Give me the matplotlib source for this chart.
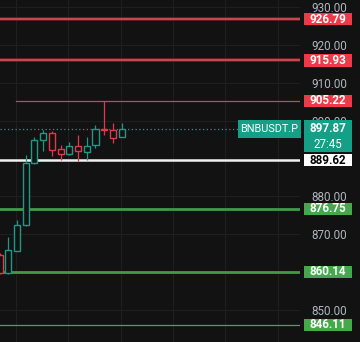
import matplotlib
matplotlib.use("Agg")
import matplotlib.pyplot as plt
from matplotlib.patches import Rectangle
from matplotlib.transforms import blended_transform_factory

plt.rcParams['font.family'] = ['Roboto', 'DejaVu Sans']

# candle data (5m BNBUSDT.P)
opens = [864.5, 859.8, 865.6, 872.4, 888.8, 894.9, 896.8, 892.4, 891.2, 893.2, 891.7, 893.6, 897.8, 897.55, 895.6]
closes = [859.8, 865.8, 872.6, 888.9, 895.0, 896.8, 892.3, 891.3, 893.2, 891.9, 893.4, 897.7, 897.6, 895.5, 897.87]
highs = [865.0, 869.3, 873.7, 891.0, 895.8, 897.6, 897.4, 893.7, 894.3, 896.1, 895.6, 898.9, 905.22, 899.3, 899.5]
lows = [859.5, 859.5, 865.5, 872.3, 888.5, 892.1, 890.8, 889.7, 891.0, 889.3, 889.5, 892.7, 896.2, 894.0, 895.6]

# drawn levels
red_levels = [926.79, 915.93, 905.22]
white_level = 889.62
green_levels = [876.75, 860.14, 846.11]
last_price = 897.87
countdown = "27:45"
symbol = "BNBUSDT.P"
tick_values = [850, 860, 870, 880, 890, 900, 910, 920, 930]
hidden_ticks = [860, 890]  # covered by the level boxes

bg = "#121212"
up = "#1f9985"
down = "#e0394a"
red_box = "#ee3a48"
green_box = "#45a84b"
teal_box = "#14a086"

fig = plt.figure(figsize=(3.6, 3.42), dpi=100)
fig.patch.set_facecolor(bg)
ax = fig.add_axes([0, 0, 300 / 360, 1])
ax.set_facecolor(bg)

ax.set_xlim(0.05, 34.45)
ax.set_ylim(841.6, 931.85)

# grid
ax.set_xticks([1.9 + 6 * k for k in range(6)])
ax.set_yticks(tick_values)
ax.grid(True, color="#1f1f1f", lw=0.8, zorder=0)
for s in ax.spines.values():
    s.set_visible(False)
ax.yaxis.tick_right()
ax.set_yticklabels(["" if v in hidden_ticks else f"{v:.2f}" for v in tick_values])
ax.tick_params(axis="y", length=0, pad=8, labelsize=8.4, labelcolor="#b2b5be")
ax.tick_params(axis="x", length=0, labelbottom=False)

# candles
idx = list(range(len(opens)))
colors = [up if c >= o else down for o, c in zip(opens, closes)]
ax.vlines(idx, lows, highs, colors=colors, lw=0.9, zorder=3)
bottoms = [min(o, c) for o, c in zip(opens, closes)]
heights = [max(abs(c - o), 0.15) for o, c in zip(opens, closes)]
ax.bar(idx, heights, bottom=bottoms, width=0.7, facecolor=bg,
       edgecolor=colors, lw=1.0, zorder=4)

# horizontal levels
ax.axhline(red_levels[0], color="#7a1c24", lw=2.6, zorder=2)
ax.axhline(red_levels[0], color="#c64a55", lw=1.4, zorder=2)
ax.axhline(red_levels[1], color="#7a1c24", lw=2.6, zorder=2)
ax.axhline(red_levels[1], color="#c64a55", lw=1.4, zorder=2)
ax.axhline(red_levels[2], xmin=16 / 300, color="#d8404c", lw=0.9, zorder=2)
ax.axhline(white_level, color="#f0f0f0", lw=1.8, zorder=2)
ax.axhline(green_levels[0], color="#3f9c46", lw=2.0, zorder=2)
ax.axhline(green_levels[1], color="#3f9c46", lw=2.0, zorder=2)
ax.axhline(green_levels[2], color="#45a84b", lw=0.9, zorder=2)
ax.axhline(last_price, color=teal_box, lw=0.9, ls=(0, (1, 2)), zorder=2)

# price scale labels
tr = blended_transform_factory(ax.transAxes, ax.transData)
ppx = 3.79  # pixels per price unit


def price_label(y, text, fc, tc="white", top=6.2, bottom=6.2):
    ax.add_patch(Rectangle((304 / 300, y - bottom / ppx), 48 / 300, (top + bottom) / ppx,
                           transform=tr, facecolor=fc, edgecolor="none",
                           clip_on=False, zorder=10))
    ax.text(328 / 300, y, text, transform=tr, ha="center", va="center",
            color=tc, fontsize=8.4, fontweight="bold", clip_on=False, zorder=11)


for lv in red_levels:
    price_label(lv, f"{lv:.2f}", red_box)
for lv in green_levels:
    price_label(lv, f"{lv:.2f}", green_box)
price_label(white_level, f"{white_level:.2f}", "white", tc="black")

# last price box with countdown
price_label(last_price, f"{last_price:.2f}", teal_box, top=8.8, bottom=23.2)
ax.text(328 / 300, last_price - 16.2 / ppx, countdown, transform=tr, ha="center",
        va="center", color="white", fontsize=8.4, clip_on=False, zorder=11)

# symbol box
ax.add_patch(Rectangle((238 / 300, last_price - 9 / ppx), 63 / 300, 18 / ppx,
                       transform=tr, facecolor=teal_box, edgecolor="none",
                       clip_on=False, zorder=10))
ax.text(269.5 / 300, last_price, symbol, transform=tr, ha="center", va="center",
        color="white", fontsize=7.8, clip_on=False, zorder=11)

fig.savefig("out.png", dpi=100, facecolor=bg)
